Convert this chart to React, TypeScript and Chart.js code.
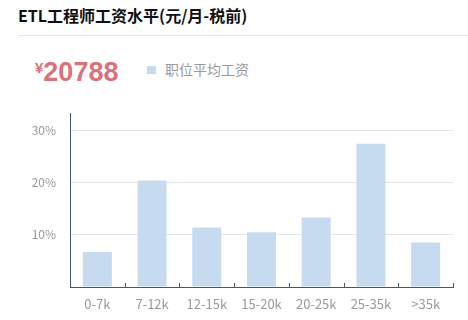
import React, { useEffect, useRef } from "react";
import { Chart, registerables } from "chart.js";

Chart.register(...registerables);

const categories = ["0-7k", "7-12k", "12-15k", "15-20k", "20-25k", "25-35k", ">35k"];
const shares = [6.7, 20.4, 11.4, 10.5, 13.3, 27.4, 8.5];
const yTicks = [0, 10, 20, 30];
const title = "ETL工程师工资水平(元/月-税前)";
const avgSalary = "20788";
const seriesName = "职位平均工资";

const FONT = '"Noto Sans CJK SC", "Noto Sans", sans-serif';
const BAR = "#c6dbf0";
const AXIS = "#3f5b66";

const insideTicks = {
  id: "insideTicks",
  afterDraw(chart: any) {
    const x = chart.scales.x;
    const ctx = chart.ctx;
    const bottom = chart.chartArea.bottom;
    ctx.save();
    ctx.strokeStyle = AXIS;
    ctx.lineWidth = 1;
    for (let i = 0; i <= categories.length; i++) {
      let px;
      if (i === 0) px = x.left;
      else if (i === categories.length) px = x.right;
      else px = (x.getPixelForValue(i - 1) + x.getPixelForValue(i)) / 2;
      px = Math.round(px) + 0.5;
      ctx.beginPath();
      ctx.moveTo(px, bottom);
      ctx.lineTo(px, bottom - 4);
      ctx.stroke();
    }
    ctx.restore();
  },
};

export default function App() {
  const ref = useRef<HTMLCanvasElement>(null);
  useEffect(() => {
    const chart = new Chart(ref.current!, {
      type: "bar",
      data: {
        labels: categories,
        datasets: [
          {
            label: seriesName,
            data: shares,
            backgroundColor: BAR,
            barPercentage: 0.53,
            categoryPercentage: 1,
          },
        ],
      },
      options: {
        animation: false,
        responsive: false,
        layout: { padding: { top: 13, right: 15, left: 0, bottom: 0 } },
        plugins: { legend: { display: false }, tooltip: { enabled: false } },
        scales: {
          x: {
            grid: { display: false },
            border: { display: true, color: AXIS, width: 1 },
            ticks: { color: "#999", font: { family: FONT, size: 13 }, padding: 1, maxRotation: 0 },
            afterFit(s: any) {
              s.height = 33;
              s.paddingLeft = 0;
              s.paddingRight = 0;
            },
          },
          y: {
            min: 0,
            max: 33.3,
            border: { display: true, color: AXIS, width: 1 },
            grid: {
              drawTicks: false,
              color: (c: any) => (c.tick && c.tick.value === 0 ? "rgba(0,0,0,0)" : "#e4e4e4"),
            },
            ticks: {
              stepSize: 10,
              padding: 14,
              color: "#999",
              font: { family: FONT, size: 12 },
              callback: (v: any) => (v === 0 ? "" : v + "%"),
            },
            afterBuildTicks(s: any) {
              s.ticks = yTicks.map((v) => ({ value: v }));
            },
            afterFit(s: any) {
              s.width = 70;
              s.paddingTop = 0;
              s.paddingBottom = 0;
            },
          },
        },
      },
      plugins: [insideTicks],
    });
    return () => chart.destroy();
  }, []);

  return (
    <div style={{ position: "absolute", left: 0, top: 0, width: 468, height: 320, background: "#fff", fontFamily: FONT, overflow: "hidden" }}>
      <div style={{ position: "absolute", left: 18, top: 4, fontSize: 16, fontWeight: 700, color: "#111", lineHeight: "22px", whiteSpace: "nowrap" }}>
        {title}
      </div>
      <div style={{ position: "absolute", left: 18, top: 35, width: 450, height: 1, background: "#e6e6e6" }} />
      <div style={{ position: "absolute", left: 35, top: 52, color: "#d8737b", fontWeight: 700, whiteSpace: "nowrap", fontFamily: '"Liberation Sans", Arial, sans-serif', lineHeight: "32px" }}>
        <span style={{ fontSize: 15, verticalAlign: 8 }}>¥</span>
        <span style={{ fontSize: 27 }}>{avgSalary}</span>
      </div>
      <div style={{ position: "absolute", left: 147, top: 66, width: 9, height: 8, background: BAR }} />
      <div style={{ position: "absolute", left: 165, top: 59, fontSize: 14, color: "#9a9a9a", lineHeight: "20px", whiteSpace: "nowrap" }}>
        {seriesName}
      </div>
      <canvas ref={ref} width={468} height={220} style={{ position: "absolute", left: 0, top: 100, width: 468, height: 220 }} />
    </div>
  );
}
